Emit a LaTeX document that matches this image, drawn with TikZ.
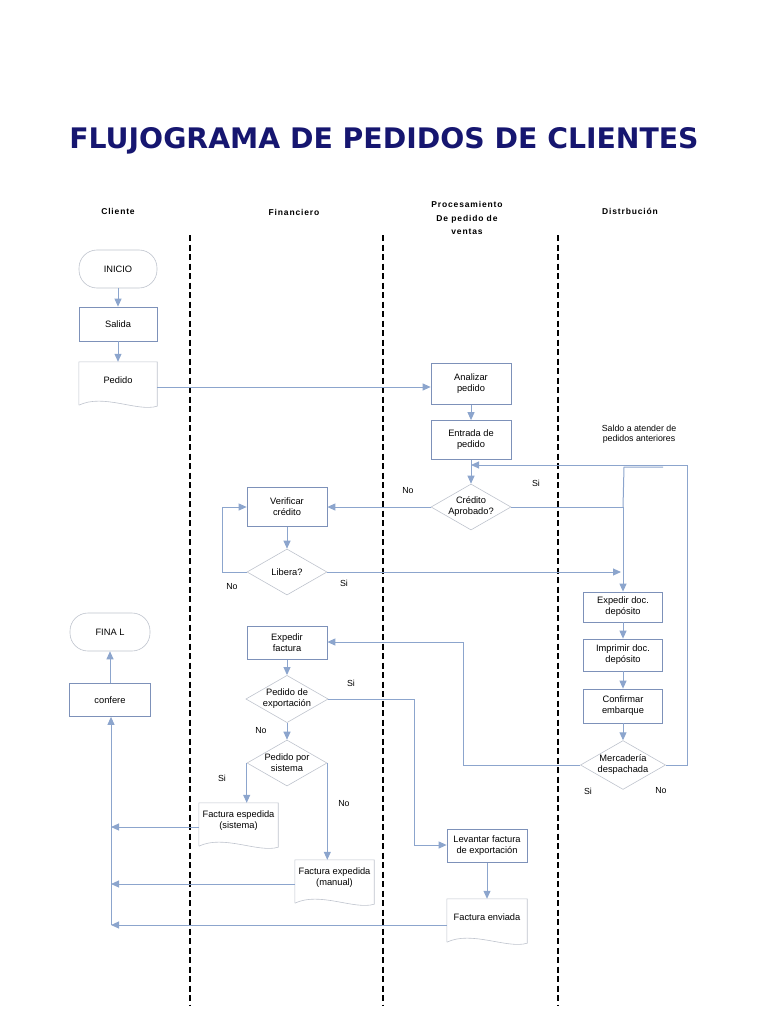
\documentclass[tikz,border=0pt]{standalone}
\usepackage{fontspec}
\setmainfont{Liberation Sans}
\newfontfamily\titlefont{DejaVu Sans}
\newfontfamily\hdrfont[LetterSpace=10]{Liberation Sans}
\usetikzlibrary{shapes.geometric,arrows.meta}
\definecolor{lc}{RGB}{140,165,205}
\definecolor{bx}{RGB}{125,145,185}
\definecolor{dc}{RGB}{190,195,205}
\definecolor{navy}{RGB}{22,22,112}
\newcommand{\docpath}[1]{\draw[dc,line width=0.6pt] ([yshift=-7]#1.south west) -- (#1.north west) -- (#1.north east) -- ([yshift=-8]#1.south east) .. controls ([xshift=-20,yshift=-14]#1.south east) and ([xshift=25,yshift=5]#1.south west) .. ([yshift=-7]#1.south west);}
\begin{document}
\begin{tikzpicture}[x=1pt,y=-1pt,
  every node/.style={font=\fontsize{9.3}{11}\selectfont,align=center,inner sep=0pt},
  box/.style={draw=bx,line width=0.7pt,minimum width=80,minimum height=#1},
  box/.default=36,
  term/.style={draw=dc,line width=0.6pt,rounded corners=18pt,minimum width=78,minimum height=38},
  dia/.style={draw=dc,line width=0.6pt,diamond,aspect=1.74,minimum width=80,minimum height=46},
  doc/.style={minimum width=80,minimum height=36},
  ar/.style={lc,line width=1pt,-{Triangle[width=7pt,length=8pt]}},
  lnp/.style={lc,line width=1pt},
  lab/.style={font=\fontsize{8.8}{10}\selectfont},
  hdr/.style={font=\hdrfont\bfseries\fontsize{8.5}{13.5}\selectfont},
  lane/.style={black,line width=1.6pt,dash pattern=on 6pt off 3.5pt}]
\useasboundingbox (0,0) rectangle (768,1024);
\node[font=\titlefont\bfseries\fontsize{28.3}{32}\selectfont,text=navy] (title) at (384,141) {FLUJOGRAMA DE PEDIDOS DE CLIENTES};
\node[hdr] (h1) at (118,211) {Cliente};
\node[hdr] (h2) at (294,212) {Financiero};
\node[hdr] (h3) at (467,218) {Procesamiento\\De pedido de\\ventas};
\node[hdr] (h4) at (630,211) {Distrbución};
\draw[lane] (190,235) -- (190,1005);
\draw[lane] (383,235) -- (383,1005);
\draw[lane] (558,235) -- (558,1005);
% nodes
\node[term] (ini) at (118,269) {INICIO};
\node[box=34,minimum width=78] (sal) at (118,324) {Salida};
\node[doc,minimum width=78] (ped) at (118,380) {Pedido};
\node[box=41] (ana) at (471,384) {Analizar\\pedido};
\node[box=39] (ent) at (471,440) {Entrada de\\pedido};
\node[dia] (cre) at (471,507) {Crédito\\Aprobado?};
\node[box=39] (ver) at (287,507) {Verificar\\crédito};
\node[dia] (lib) at (287,572) {Libera?};
\node[box=30,minimum width=79] (exd) at (623,607) {Expedir doc.\\depósito};
\node[box=32,minimum width=79] (imp) at (623,655) {Imprimir doc.\\depósito};
\node[box=34,minimum width=79] (con) at (623,706) {Confirmar\\embarque};
\node[dia] (mer) at (623,765) {Mercadería\\despachada};
\node[term,minimum width=80] (fin) at (110,632) {FINA L};
\node[box=33,minimum width=81] (cnf) at (110,700) {confere};
\node[box=33] (exf) at (287,643) {Expedir\\factura};
\node[dia] (pex) at (287,699) {Pedido de\\exportación};
\node[dia] (psi) at (287,763) {Pedido por\\sistema};
\node[doc,minimum width=79] (fes) at (238.5,821) {Factura espedida\\(sistema)};
\node[doc,minimum width=79] (fma) at (334.5,878) {Factura expedida\\(manual)};
\node[box=33] (lev) at (487,846) {Levantar factura\\de exportación};
\node[doc] (fen) at (487,917) {Factura enviada};
\docpath{ped}\docpath{fes}\docpath{fma}\docpath{fen}
\node[lab] (saldo) at (639,434) {Saldo a atender de\\pedidos anteriores};
% connectors
\draw[ar] (ini) -- (sal);
\draw[ar] (sal) -- (ped);
\draw[ar] (ped.east |- 0,387) -- (ana.west |- 0,387);
\draw[ar] (ana) -- (ent);
\draw[ar] (ent) -- (cre);
\draw[ar] (cre) -- (ver);
\node[lab] (no1) at (408,491) {No};
\coordinate (c1) at (623,507);
\draw[ar] (cre.east) -- (c1) -- (exd.north);
\node[lab] (si1) at (536,483) {Si};
\coordinate (s1) at (663,467);
\coordinate (s2) at (624,467);
\draw[lnp] (s1) -- (s2) -- (c1);
\coordinate (m1) at (687,765);
\coordinate (m2) at (687,465);
\draw[ar] (mer.east) -- (m1) -- (m2) -- (ent.south |- m2);
\draw[ar] (ver) -- (lib);
\coordinate (l1) at (222,572);
\coordinate (l2) at (222,507);
\draw[ar] (lib.west) -- (l1) -- (l2) -- (ver.west);
\node[lab] (no2) at (232,587) {No};
\coordinate (l3) at (621,572);
\draw[ar] (lib.east) -- (l3);
\node[lab] (si2) at (344,583) {Si};
\draw[ar] (exd) -- (imp);
\draw[ar] (imp) -- (con);
\draw[ar] (con) -- (mer);
\coordinate (m3) at (463,765);
\coordinate (m4) at (463,642);
\draw[ar] (mer.west) -- (m3) -- (m4) -- (exf.east |- m4);
\node[lab] (si3) at (588,791) {Si};
\node[lab] (no3) at (661,791) {No};
\draw[ar] (cnf) -- (fin);
\draw[ar] (exf) -- (pex);
\coordinate (p1) at (414,699);
\coordinate (p2) at (414,845);
\draw[ar] (pex.east) -- (p1) -- (p2) -- (lev.west |- p2);
\node[lab] (si4) at (351,683) {Si};
\draw[ar] (pex) -- (psi);
\node[lab] (no4) at (261,731) {No};
\draw[ar] (psi.west) -- (psi.west |- fes.north);
\node[lab] (si5) at (222,778) {Si};
\draw[ar] (psi.east) -- (psi.east |- fma.north);
\node[lab] (no5) at (344,804) {No};
\draw[ar] (lev) -- (fen);
\coordinate (v1) at (111,827);
\coordinate (v2) at (111,884);
\coordinate (v3) at (111,925);
\draw[ar] (fes.west |- v1) -- (v1);
\draw[ar] (fma.west |- v2) -- (v2);
\draw[ar] (fen.west |- v3) -- (v3);
\draw[ar] (v3) -- (cnf.south -| v3);
\end{tikzpicture}
\end{document}
